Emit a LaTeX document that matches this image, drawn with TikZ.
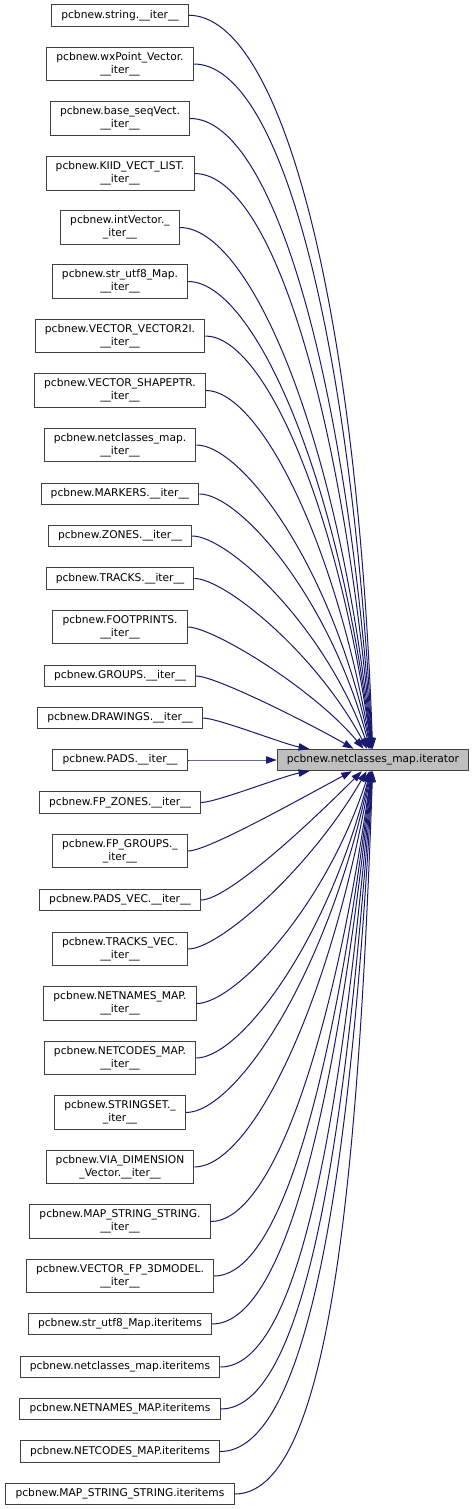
\documentclass[tikz,border=0pt]{standalone}
\usepackage{fontspec}
\setmainfont{DejaVu Sans}
\usepackage{tikz}
\usetikzlibrary{arrows.meta}
\definecolor{callblue}{RGB}{25,25,112}
\definecolor{boxgrey}{RGB}{64,64,64}
\definecolor{focusgrey}{RGB}{191,191,191}

\begin{document}
\begin{tikzpicture}[
    x=0.75pt, y=-0.75pt,
    fn/.style={draw=boxgrey, line width=0.75pt, fill=white, align=center, inner xsep=7.3pt, inner ysep=3.8pt, minimum height=16.1pt, font=\fontsize{8}{9.75}\selectfont},
    call/.style={draw=callblue, line width=0.75pt, -{Triangle[length=8pt,width=5.5pt]}}
]
\useasboundingbox (0,0) rectangle (474,1509);
\node[fn, fill=focusgrey] (iter) at (373,760) {pcbnew.netclasses\_map.iterator};

\foreach \y/\ang/\txt [count=\i] in {
    15.3/92/{pcbnew.string.\_\_iter\_\_},
    64/93/{pcbnew.wxPoint\_Vector.\\\_\_iter\_\_},
    118.5/94/{pcbnew.base\_seqVect.\\\_\_iter\_\_},
    173.5/95/{pcbnew.KIID\_VECT\_LIST.\\\_\_iter\_\_},
    227.5/96/{pcbnew.intVector.\_\\\_iter\_\_},
    281.5/97/{pcbnew.str\_utf8\_Map.\\\_\_iter\_\_},
    336/98/{pcbnew.VECTOR\_VECTOR2I.\\\_\_iter\_\_},
    390.5/100/{pcbnew.VECTOR\_SHAPEPTR.\\\_\_iter\_\_},
    445/102/{pcbnew.netclasses\_map.\\\_\_iter\_\_},
    494/105/{pcbnew.MARKERS.\_\_iter\_\_},
    536/110/{pcbnew.ZONES.\_\_iter\_\_},
    578.5/118/{pcbnew.TRACKS.\_\_iter\_\_},
    627/130/{pcbnew.FOOTPRINTS.\\\_\_iter\_\_},
    676/150/{pcbnew.GROUPS.\_\_iter\_\_},
    718/170/{pcbnew.DRAWINGS.\_\_iter\_\_},
    760/180/{pcbnew.PADS.\_\_iter\_\_},
    802.5/190/{pcbnew.FP\_ZONES.\_\_iter\_\_},
    851/208/{pcbnew.FP\_GROUPS.\_\\\_iter\_\_},
    900/225/{pcbnew.PADS\_VEC.\_\_iter\_\_},
    949/240/{pcbnew.TRACKS\_VEC.\\\_\_iter\_\_},
    1003.5/252/{pcbnew.NETNAMES\_MAP.\\\_\_iter\_\_},
    1058/256/{pcbnew.NETCODES\_MAP.\\\_\_iter\_\_},
    1112.5/258/{pcbnew.STRINGSET.\_\\\_iter\_\_},
    1167/260/{pcbnew.VIA\_DIMENSION\\\_Vector.\_\_iter\_\_},
    1221.5/262/{pcbnew.MAP\_STRING\_STRING.\\\_\_iter\_\_},
    1276/263/{pcbnew.VECTOR\_FP\_3DMODEL.\\\_\_iter\_\_},
    1324/264/{pcbnew.str\_utf8\_Map.iteritems},
    1367/265/{pcbnew.netclasses\_map.iteritems},
    1409/266/{pcbnew.NETNAMES\_MAP.iteritems},
    1451.5/267/{pcbnew.NETCODES\_MAP.iteritems},
    1494/268/{pcbnew.MAP\_STRING\_STRING.iteritems}%
}{
    \node[fn] (caller\i) at (120,\y) {\txt};
    \pgfmathsetmacro{\dy}{abs(760-\y)}
    \pgfmathsetmacro{\od}{0.75*(0.11*\dy+10)}
    \pgfmathsetmacro{\id}{0.75*0.6*\dy}
    \draw[call] (caller\i.east) to[out=0, in=\ang, out distance=\od pt, in distance=\id pt] (iter);
}
\end{tikzpicture}
\end{document}
